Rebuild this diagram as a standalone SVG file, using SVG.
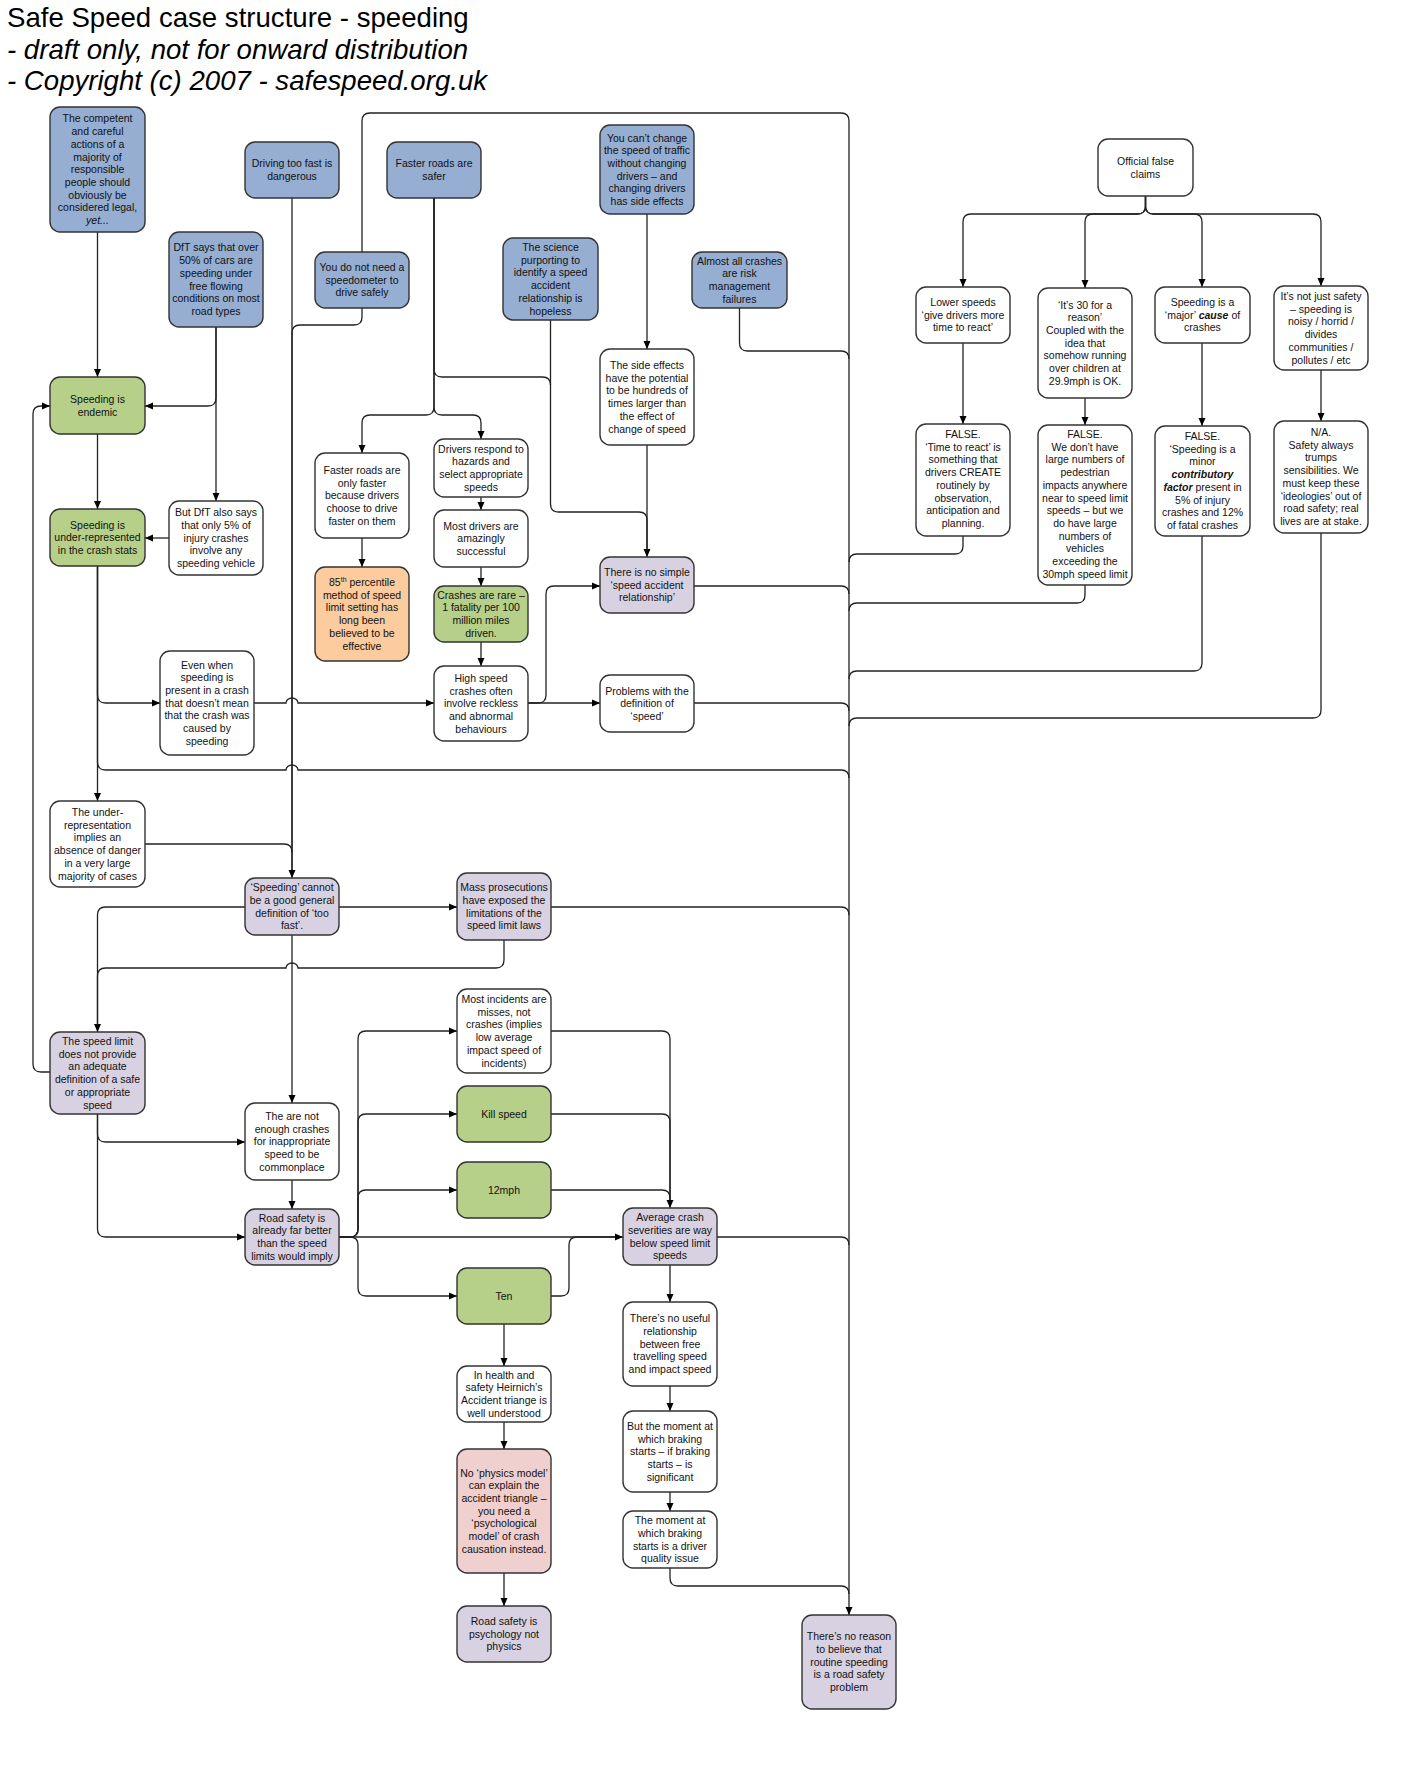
<svg xmlns="http://www.w3.org/2000/svg" width="1415" height="1785" viewBox="0 0 1415 1785">
<style>
.title{font-family:"Liberation Sans",Arial,sans-serif;font-size:27.6px;fill:#000}
.n rect{stroke:#333;stroke-width:1.4}
.b rect{fill:#95aed1}.g rect{fill:#b6cf89}.p rect{fill:#d8d1e2}.o rect{fill:#fccb9e}.k rect{fill:#efd0cf}.w rect{fill:#fff}
.n text{font-family:"Liberation Sans",Arial,sans-serif;font-size:10.5px;text-anchor:middle;fill:#111}
#connectors path{fill:none;stroke:#222;stroke-width:1.3}
.bi{font-weight:bold;font-style:italic}
</style>
<defs>
<marker id="a" markerWidth="8" markerHeight="8" refX="8" refY="4" orient="auto" markerUnits="userSpaceOnUse"><path d="M0,0.5 L8,4 L0,7.5 z" fill="#000"/></marker>
</defs>
<rect x="0" y="0" width="1415" height="1785" fill="#fff"/>
<g id="title">
<text class="title" x="7" y="27">Safe Speed case structure - speeding</text>
<text class="title" x="7" y="58.5" font-style="italic">- draft only, not for onward distribution</text>
<text class="title" x="7" y="90" font-style="italic">- Copyright (c) 2007 - safespeed.org.uk</text>
</g>
<g id="connectors">
<path d="M362,252 V121 Q362,113 370,113 H841 Q849,113 849,121 V1615" marker-end="url(#a)"/>
<path d="M97.5,232 V377" marker-end="url(#a)"/>
<path d="M216,327 V501" marker-end="url(#a)"/>
<path d="M216,327 V398 Q216,406 208,406 H145" marker-end="url(#a)"/>
<path d="M97.5,434 V509" marker-end="url(#a)"/>
<path d="M169,538 H145" marker-end="url(#a)"/>
<path d="M97.5,566 V801" marker-end="url(#a)"/>
<path d="M97.5,566 V695 Q97.5,703 105.5,703 H160" marker-end="url(#a)"/>
<path d="M254,703 H286 A6,5 0 0 1 298,703 H434" marker-end="url(#a)"/>
<path d="M97.5,566 V762 Q97.5,770 105.5,770 H286 A6,5 0 0 1 298,770 H841 Q849,770 849,778"/>
<path d="M528,703 H600" marker-end="url(#a)"/>
<path d="M528,703 H538 Q546,703 546,695 V594 Q546,586 554,586 H600" marker-end="url(#a)"/>
<path d="M694,586 H841 Q849,586 849,594"/>
<path d="M694,703 H841 Q849,703 849,711"/>
<path d="M647,445 V557" marker-end="url(#a)"/>
<path d="M550.5,320 V504 Q550.5,512 558.5,512 H639 Q647,512 647,520 V550"/>
<path d="M434,198 V407 Q434,415 426,415 H370 Q362,415 362,423 V453" marker-end="url(#a)"/>
<path d="M434,198 V407 Q434,415 442,415 H473 Q481,415 481,423 V439" marker-end="url(#a)"/>
<path d="M434,198 V369 Q434,377 442,377 H542.5 Q550.5,377 550.5,385"/>
<path d="M362,538 V567" marker-end="url(#a)"/>
<path d="M481,497 V510" marker-end="url(#a)"/>
<path d="M481,567 V586" marker-end="url(#a)"/>
<path d="M481,642 V666" marker-end="url(#a)"/>
<path d="M647,214 V349" marker-end="url(#a)"/>
<path d="M739.5,308 V343 Q739.5,351 747.5,351 H841 Q849,351 849,359"/>
<path d="M362,308 V317 Q362,325 354,325 H300 Q292,325 292,333 V870"/>
<path d="M292,198 V878" marker-end="url(#a)"/>
<path d="M145,844 H284 Q292,844 292,852"/>
<path d="M339,907 H457" marker-end="url(#a)"/>
<path d="M245,907 H105.5 Q97.5,907 97.5,915 V1032" marker-end="url(#a)"/>
<path d="M504,940 V960 Q504,968 496,968 H298 A6,5 0 0 0 286,968 H105.5 Q97.5,968 97.5,976 V1025"/>
<path d="M551,907 H841 Q849,907 849,915"/>
<path d="M292,935 V1103" marker-end="url(#a)"/>
<path d="M97.5,1114 V1134 Q97.5,1142 105.5,1142 H245" marker-end="url(#a)"/>
<path d="M97.5,1114 V1229 Q97.5,1237 105.5,1237 H245" marker-end="url(#a)"/>
<path d="M50,1072 H41 Q33,1072 33,1064 V414 Q33,406 41,406 H50" marker-end="url(#a)"/>
<path d="M292,1180 V1209" marker-end="url(#a)"/>
<path d="M339,1237 H623" marker-end="url(#a)"/>
<path d="M339,1237 H350 Q358,1237 358,1229 V1039 Q358,1031 366,1031 H457" marker-end="url(#a)"/>
<path d="M339,1237 H350 Q358,1237 358,1229 V1122 Q358,1114 366,1114 H457" marker-end="url(#a)"/>
<path d="M339,1237 H350 Q358,1237 358,1229 V1198 Q358,1190 366,1190 H457" marker-end="url(#a)"/>
<path d="M339,1237 H350 Q358,1237 358,1245 V1288 Q358,1296 366,1296 H457" marker-end="url(#a)"/>
<path d="M551,1031 H662 Q670,1031 670,1039 V1208" marker-end="url(#a)"/>
<path d="M551,1114 H662 Q670,1114 670,1122 V1200"/>
<path d="M551,1190 H662 Q670,1190 670,1198 V1200"/>
<path d="M551,1296 H561 Q569,1296 569,1288 V1245 Q569,1237 577,1237 H615"/>
<path d="M504,1324 V1366" marker-end="url(#a)"/>
<path d="M504,1422 V1449" marker-end="url(#a)"/>
<path d="M504,1573 V1606" marker-end="url(#a)"/>
<path d="M670,1265 V1302" marker-end="url(#a)"/>
<path d="M670,1386 V1411" marker-end="url(#a)"/>
<path d="M670,1492 V1511" marker-end="url(#a)"/>
<path d="M670,1568 V1578 Q670,1586 678,1586 H841 Q849,1586 849,1594"/>
<path d="M717,1237 H841 Q849,1237 849,1245"/>
<path d="M1145.5,196 V206 Q1145.5,214 1137.5,214 H971 Q963,214 963,222 V287" marker-end="url(#a)"/>
<path d="M1145.5,196 V206 Q1145.5,214 1137.5,214 H1093 Q1085,214 1085,222 V288" marker-end="url(#a)"/>
<path d="M1145.5,196 V206 Q1145.5,214 1153.5,214 H1194 Q1202,214 1202,222 V287" marker-end="url(#a)"/>
<path d="M1145.5,196 V206 Q1145.5,214 1153.5,214 H1313 Q1321,214 1321,222 V286" marker-end="url(#a)"/>
<path d="M963,343 V424" marker-end="url(#a)"/>
<path d="M1085,398 V425" marker-end="url(#a)"/>
<path d="M1202,343 V426" marker-end="url(#a)"/>
<path d="M1321,370 V421" marker-end="url(#a)"/>
<path d="M963,536 V546 Q963,554 955,554 H857 Q849,554 849,562"/>
<path d="M1085,585 V595 Q1085,603 1077,603 H857 Q849,603 849,611"/>
<path d="M1202,536 V663 Q1202,671 1194,671 H857 Q849,671 849,679"/>
<path d="M1321,533 V710 Q1321,718 1313,718 H857 Q849,718 849,726"/>
</g>

<g id="n-competent" class="n b"><rect x="50" y="107" width="95" height="125" rx="10"/>
<text y="122.4"><tspan x="97.5">The competent</tspan><tspan x="97.5" dy="12.7">and careful</tspan><tspan x="97.5" dy="12.7">actions of a</tspan><tspan x="97.5" dy="12.7">majority of</tspan><tspan x="97.5" dy="12.7">responsible</tspan><tspan x="97.5" dy="12.7">people should</tspan><tspan x="97.5" dy="12.7">obviously be</tspan><tspan x="97.5" dy="12.7">considered legal,</tspan><tspan x="97.5" dy="12.7" font-style="italic">yet...</tspan></text></g>
<g id="n-driving" class="n b"><rect x="245" y="142" width="94" height="56" rx="10"/>
<text y="167.4"><tspan x="292">Driving too fast is</tspan><tspan x="292" dy="12.7">dangerous</tspan></text></g>
<g id="n-fastersafer" class="n b"><rect x="387" y="142" width="94" height="56" rx="10"/>
<text y="167.4"><tspan x="434">Faster roads are</tspan><tspan x="434" dy="12.7">safer</tspan></text></g>
<g id="n-cantchange" class="n b"><rect x="600" y="125" width="94" height="89" rx="10"/>
<text y="141.5"><tspan x="647">You can’t change</tspan><tspan x="647" dy="12.7">the speed of traffic</tspan><tspan x="647" dy="12.7">without changing</tspan><tspan x="647" dy="12.7">drivers – and</tspan><tspan x="647" dy="12.7">changing drivers</tspan><tspan x="647" dy="12.7">has side effects</tspan></text></g>
<g id="n-dft50" class="n b"><rect x="169" y="232" width="94" height="95" rx="10"/>
<text y="251.4"><tspan x="216">DfT says that over</tspan><tspan x="216" dy="12.7">50% of cars are</tspan><tspan x="216" dy="12.7">speeding under</tspan><tspan x="216" dy="12.7">free flowing</tspan><tspan x="216" dy="12.7">conditions on most</tspan><tspan x="216" dy="12.7">road types</tspan></text></g>
<g id="n-speedo" class="n b"><rect x="315" y="252" width="94" height="56" rx="10"/>
<text y="271"><tspan x="362">You do not need a</tspan><tspan x="362" dy="12.7">speedometer to</tspan><tspan x="362" dy="12.7">drive safely</tspan></text></g>
<g id="n-science" class="n b"><rect x="503" y="238" width="95" height="82" rx="10"/>
<text y="251"><tspan x="550.5">The science</tspan><tspan x="550.5" dy="12.7">purporting to</tspan><tspan x="550.5" dy="12.7">identify a speed</tspan><tspan x="550.5" dy="12.7">accident</tspan><tspan x="550.5" dy="12.7">relationship is</tspan><tspan x="550.5" dy="12.7">hopeless</tspan></text></g>
<g id="n-almostall" class="n b"><rect x="692" y="252" width="95" height="56" rx="10"/>
<text y="264.6"><tspan x="739.5">Almost all crashes</tspan><tspan x="739.5" dy="12.7">are risk</tspan><tspan x="739.5" dy="12.7">management</tspan><tspan x="739.5" dy="12.7">failures</tspan></text></g>
<g id="n-sideeffects" class="n w"><rect x="600" y="349" width="94" height="96" rx="10"/>
<text y="369"><tspan x="647">The side effects</tspan><tspan x="647" dy="12.7">have the potential</tspan><tspan x="647" dy="12.7">to be hundreds of</tspan><tspan x="647" dy="12.7">times larger than</tspan><tspan x="647" dy="12.7">the effect of</tspan><tspan x="647" dy="12.7">change of speed</tspan></text></g>
<g id="n-official" class="n w"><rect x="1098" y="139" width="95" height="57" rx="10"/>
<text y="164.8"><tspan x="1145.5">Official false</tspan><tspan x="1145.5" dy="12.7">claims</tspan></text></g>
<g id="n-lowerspeeds" class="n w"><rect x="916" y="287" width="94" height="56" rx="10"/>
<text y="306"><tspan x="963">Lower speeds</tspan><tspan x="963" dy="12.7">‘give drivers more</tspan><tspan x="963" dy="12.7">time to react’</tspan></text></g>
<g id="n-30reason" class="n w"><rect x="1038" y="288" width="94" height="110" rx="10"/>
<text y="308.6"><tspan x="1085">‘It’s 30 for a</tspan><tspan x="1085" dy="12.7">reason’</tspan><tspan x="1085" dy="12.7">Coupled with the</tspan><tspan x="1085" dy="12.7">idea that</tspan><tspan x="1085" dy="12.7">somehow running</tspan><tspan x="1085" dy="12.7">over children at</tspan><tspan x="1085" dy="12.7">29.9mph is OK.</tspan></text></g>
<g id="n-majorcause" class="n w"><rect x="1155" y="287" width="95" height="56" rx="10"/>
<text y="306"><tspan x="1202.5">Speeding is a</tspan><tspan x="1202.5" dy="12.7">‘major’ <tspan class="bi">cause</tspan> of</tspan><tspan x="1202.5" dy="12.7">crashes</tspan></text></g>
<g id="n-notjustsafety" class="n w"><rect x="1274" y="286" width="94" height="84" rx="10"/>
<text y="300"><tspan x="1321">It’s not just safety</tspan><tspan x="1321" dy="12.7">– speeding is</tspan><tspan x="1321" dy="12.7">noisy / horrid /</tspan><tspan x="1321" dy="12.7">divides</tspan><tspan x="1321" dy="12.7">communities /</tspan><tspan x="1321" dy="12.7">pollutes / etc</tspan></text></g>
<g id="n-false-react" class="n w"><rect x="916" y="424" width="94" height="112" rx="10"/>
<text y="438"><tspan x="963">FALSE.</tspan><tspan x="963" dy="12.7">‘Time to react’ is</tspan><tspan x="963" dy="12.7">something that</tspan><tspan x="963" dy="12.7">drivers CREATE</tspan><tspan x="963" dy="12.7">routinely by</tspan><tspan x="963" dy="12.7">observation,</tspan><tspan x="963" dy="12.7">anticipation and</tspan><tspan x="963" dy="12.7">planning.</tspan></text></g>
<g id="n-false-ped" class="n w"><rect x="1038" y="425" width="94" height="160" rx="10"/>
<text y="438"><tspan x="1085">FALSE.</tspan><tspan x="1085" dy="12.7">We don’t have</tspan><tspan x="1085" dy="12.7">large numbers of</tspan><tspan x="1085" dy="12.7">pedestrian</tspan><tspan x="1085" dy="12.7">impacts anywhere</tspan><tspan x="1085" dy="12.7">near to speed limit</tspan><tspan x="1085" dy="12.7">speeds – but we</tspan><tspan x="1085" dy="12.7">do have large</tspan><tspan x="1085" dy="12.7">numbers of</tspan><tspan x="1085" dy="12.7">vehicles</tspan><tspan x="1085" dy="12.7">exceeding the</tspan><tspan x="1085" dy="12.7">30mph speed limit</tspan></text></g>
<g id="n-false-minor" class="n w"><rect x="1155" y="426" width="95" height="110" rx="10"/>
<text y="440"><tspan x="1202.5">FALSE.</tspan><tspan x="1202.5" dy="12.7">‘Speeding is a</tspan><tspan x="1202.5" dy="12.7">minor</tspan><tspan x="1202.5" dy="12.7" class="bi">contributory</tspan><tspan x="1202.5" dy="12.7"><tspan class="bi">factor</tspan> present in</tspan><tspan x="1202.5" dy="12.7">5% of injury</tspan><tspan x="1202.5" dy="12.7">crashes and 12%</tspan><tspan x="1202.5" dy="12.7">of fatal crashes</tspan></text></g>
<g id="n-na" class="n w"><rect x="1274" y="421" width="94" height="112" rx="10"/>
<text y="436"><tspan x="1321">N/A.</tspan><tspan x="1321" dy="12.7">Safety always</tspan><tspan x="1321" dy="12.7">trumps</tspan><tspan x="1321" dy="12.7">sensibilities. We</tspan><tspan x="1321" dy="12.7">must keep these</tspan><tspan x="1321" dy="12.7">‘ideologies’ out of</tspan><tspan x="1321" dy="12.7">road safety; real</tspan><tspan x="1321" dy="12.7">lives are at stake.</tspan></text></g>
<g id="n-endemic" class="n g"><rect x="50" y="377" width="95" height="57" rx="10"/>
<text y="402.8"><tspan x="97.5">Speeding is</tspan><tspan x="97.5" dy="12.7">endemic</tspan></text></g>
<g id="n-underrep" class="n g"><rect x="50" y="509" width="95" height="57" rx="10"/>
<text y="528.5"><tspan x="97.5">Speeding is</tspan><tspan x="97.5" dy="12.7">under-represented</tspan><tspan x="97.5" dy="12.7">in the crash stats</tspan></text></g>
<g id="n-dft5" class="n w"><rect x="169" y="501" width="94" height="74" rx="10"/>
<text y="516.3"><tspan x="216">But DfT also says</tspan><tspan x="216" dy="12.7">that only 5% of</tspan><tspan x="216" dy="12.7">injury crashes</tspan><tspan x="216" dy="12.7">involve any</tspan><tspan x="216" dy="12.7">speeding vehicle</tspan></text></g>
<g id="n-fasteronly" class="n w"><rect x="315" y="453" width="94" height="85" rx="10"/>
<text y="473.8"><tspan x="362">Faster roads are</tspan><tspan x="362" dy="12.7">only faster</tspan><tspan x="362" dy="12.7">because drivers</tspan><tspan x="362" dy="12.7">choose to drive</tspan><tspan x="362" dy="12.7">faster on them</tspan></text></g>
<g id="n-85th" class="n o"><rect x="315" y="567" width="94" height="94" rx="10"/>
<text y="586"><tspan x="362">85<tspan dy="-4" font-size="7">th</tspan><tspan dy="4"> percentile</tspan></tspan><tspan x="362" dy="12.7">method of speed</tspan><tspan x="362" dy="12.7">limit setting has</tspan><tspan x="362" dy="12.7">long been</tspan><tspan x="362" dy="12.7">believed to be</tspan><tspan x="362" dy="12.7">effective</tspan></text></g>
<g id="n-respond" class="n w"><rect x="434" y="439" width="94" height="58" rx="10"/>
<text y="452.6"><tspan x="481">Drivers respond to</tspan><tspan x="481" dy="12.7">hazards and</tspan><tspan x="481" dy="12.7">select appropriate</tspan><tspan x="481" dy="12.7">speeds</tspan></text></g>
<g id="n-successful" class="n w"><rect x="434" y="510" width="94" height="57" rx="10"/>
<text y="529.5"><tspan x="481">Most drivers are</tspan><tspan x="481" dy="12.7">amazingly</tspan><tspan x="481" dy="12.7">successful</tspan></text></g>
<g id="n-rare" class="n g"><rect x="434" y="586" width="94" height="56" rx="10"/>
<text y="598.6"><tspan x="481">Crashes are rare –</tspan><tspan x="481" dy="12.7">1 fatality per 100</tspan><tspan x="481" dy="12.7">million miles</tspan><tspan x="481" dy="12.7">driven.</tspan></text></g>
<g id="n-highspeed" class="n w"><rect x="434" y="666" width="94" height="75" rx="10"/>
<text y="681.8"><tspan x="481">High speed</tspan><tspan x="481" dy="12.7">crashes often</tspan><tspan x="481" dy="12.7">involve reckless</tspan><tspan x="481" dy="12.7">and abnormal</tspan><tspan x="481" dy="12.7">behaviours</tspan></text></g>
<g id="n-nosimple" class="n p"><rect x="600" y="557" width="94" height="56" rx="10"/>
<text y="576"><tspan x="647">There is no simple</tspan><tspan x="647" dy="12.7">‘speed accident</tspan><tspan x="647" dy="12.7">relationship’</tspan></text></g>
<g id="n-problems" class="n w"><rect x="600" y="675" width="94" height="57" rx="10"/>
<text y="694.5"><tspan x="647">Problems with the</tspan><tspan x="647" dy="12.7">definition of</tspan><tspan x="647" dy="12.7">‘speed’</tspan></text></g>
<g id="n-evenwhen" class="n w"><rect x="160" y="651" width="94" height="104" rx="10"/>
<text y="668.6"><tspan x="207">Even when</tspan><tspan x="207" dy="12.7">speeding is</tspan><tspan x="207" dy="12.7">present in a crash</tspan><tspan x="207" dy="12.7">that doesn’t mean</tspan><tspan x="207" dy="12.7">that the crash was</tspan><tspan x="207" dy="12.7">caused by</tspan><tspan x="207" dy="12.7">speeding</tspan></text></g>
<g id="n-underrepimplies" class="n w"><rect x="50" y="801" width="95" height="86" rx="10"/>
<text y="816"><tspan x="97.5">The under-</tspan><tspan x="97.5" dy="12.7">representation</tspan><tspan x="97.5" dy="12.7">implies an</tspan><tspan x="97.5" dy="12.7">absence of danger</tspan><tspan x="97.5" dy="12.7">in a very large</tspan><tspan x="97.5" dy="12.7">majority of cases</tspan></text></g>
<g id="n-cannot" class="n p"><rect x="245" y="878" width="94" height="57" rx="10"/>
<text y="891.2"><tspan x="292">‘Speeding’ cannot</tspan><tspan x="292" dy="12.7">be a good general</tspan><tspan x="292" dy="12.7">definition of ‘too</tspan><tspan x="292" dy="12.7">fast’.</tspan></text></g>
<g id="n-mass" class="n p"><rect x="457" y="873" width="94" height="67" rx="10"/>
<text y="891.2"><tspan x="504">Mass prosecutions</tspan><tspan x="504" dy="12.7">have exposed the</tspan><tspan x="504" dy="12.7">limitations of the</tspan><tspan x="504" dy="12.7">speed limit laws</tspan></text></g>
<g id="n-speedlimit" class="n p"><rect x="50" y="1032" width="95" height="82" rx="10"/>
<text y="1045"><tspan x="97.5">The speed limit</tspan><tspan x="97.5" dy="12.7">does not provide</tspan><tspan x="97.5" dy="12.7">an adequate</tspan><tspan x="97.5" dy="12.7">definition of a safe</tspan><tspan x="97.5" dy="12.7">or appropriate</tspan><tspan x="97.5" dy="12.7">speed</tspan></text></g>
<g id="n-misses" class="n w"><rect x="457" y="989" width="94" height="84" rx="10"/>
<text y="1003"><tspan x="504">Most incidents are</tspan><tspan x="504" dy="12.7">misses, not</tspan><tspan x="504" dy="12.7">crashes (implies</tspan><tspan x="504" dy="12.7">low average</tspan><tspan x="504" dy="12.7">impact speed of</tspan><tspan x="504" dy="12.7">incidents)</tspan></text></g>
<g id="n-kill" class="n g"><rect x="457" y="1086" width="94" height="56" rx="10"/>
<text x="504" y="1117.7">Kill speed</text></g>
<g id="n-12mph" class="n g"><rect x="457" y="1162" width="94" height="56" rx="10"/>
<text x="504" y="1193.7">12mph</text></g>
<g id="n-notenough" class="n w"><rect x="245" y="1103" width="94" height="77" rx="10"/>
<text y="1119.8"><tspan x="292">The are not</tspan><tspan x="292" dy="12.7">enough crashes</tspan><tspan x="292" dy="12.7">for inappropriate</tspan><tspan x="292" dy="12.7">speed to be</tspan><tspan x="292" dy="12.7">commonplace</tspan></text></g>
<g id="n-farbetter" class="n p"><rect x="245" y="1209" width="94" height="56" rx="10"/>
<text y="1221.6"><tspan x="292">Road safety is</tspan><tspan x="292" dy="12.7">already far better</tspan><tspan x="292" dy="12.7">than the speed</tspan><tspan x="292" dy="12.7">limits would imply</tspan></text></g>
<g id="n-ten" class="n g"><rect x="457" y="1268" width="94" height="56" rx="10"/>
<text x="504" y="1299.7">Ten</text></g>
<g id="n-average" class="n p"><rect x="623" y="1208" width="94" height="57" rx="10"/>
<text y="1221.2"><tspan x="670">Average crash</tspan><tspan x="670" dy="12.7">severities are way</tspan><tspan x="670" dy="12.7">below speed limit</tspan><tspan x="670" dy="12.7">speeds</tspan></text></g>
<g id="n-nouseful" class="n w"><rect x="623" y="1302" width="94" height="84" rx="10"/>
<text y="1322.3"><tspan x="670">There’s no useful</tspan><tspan x="670" dy="12.7">relationship</tspan><tspan x="670" dy="12.7">between free</tspan><tspan x="670" dy="12.7">travelling speed</tspan><tspan x="670" dy="12.7">and impact speed</tspan></text></g>
<g id="n-heinrich" class="n w"><rect x="457" y="1366" width="94" height="56" rx="10"/>
<text y="1378.6"><tspan x="504">In health and</tspan><tspan x="504" dy="12.7">safety Heirnich’s</tspan><tspan x="504" dy="12.7">Accident triange is</tspan><tspan x="504" dy="12.7">well understood</tspan></text></g>
<g id="n-physics" class="n k"><rect x="457" y="1449" width="94" height="124" rx="10"/>
<text y="1476.6"><tspan x="504">No ‘physics model’</tspan><tspan x="504" dy="12.7">can explain the</tspan><tspan x="504" dy="12.7">accident triangle –</tspan><tspan x="504" dy="12.7">you need a</tspan><tspan x="504" dy="12.7">‘psychological</tspan><tspan x="504" dy="12.7">model’ of crash</tspan><tspan x="504" dy="12.7">causation instead.</tspan></text></g>
<g id="n-psychology" class="n p"><rect x="457" y="1606" width="94" height="56" rx="10"/>
<text y="1625"><tspan x="504">Road safety is</tspan><tspan x="504" dy="12.7">psychology not</tspan><tspan x="504" dy="12.7">physics</tspan></text></g>
<g id="n-braking" class="n w"><rect x="623" y="1411" width="94" height="81" rx="10"/>
<text y="1429.8"><tspan x="670">But the moment at</tspan><tspan x="670" dy="12.7">which braking</tspan><tspan x="670" dy="12.7">starts – if braking</tspan><tspan x="670" dy="12.7">starts – is</tspan><tspan x="670" dy="12.7">significant</tspan></text></g>
<g id="n-quality" class="n w"><rect x="623" y="1511" width="94" height="57" rx="10"/>
<text y="1524.2"><tspan x="670">The moment at</tspan><tspan x="670" dy="12.7">which braking</tspan><tspan x="670" dy="12.7">starts is a driver</tspan><tspan x="670" dy="12.7">quality issue</tspan></text></g>
<g id="n-noreason" class="n p"><rect x="802" y="1615" width="94" height="94" rx="10"/>
<text y="1640.3"><tspan x="849">There’s no reason</tspan><tspan x="849" dy="12.7">to believe that</tspan><tspan x="849" dy="12.7">routine speeding</tspan><tspan x="849" dy="12.7">is a road safety</tspan><tspan x="849" dy="12.7">problem</tspan></text></g>
</svg>
